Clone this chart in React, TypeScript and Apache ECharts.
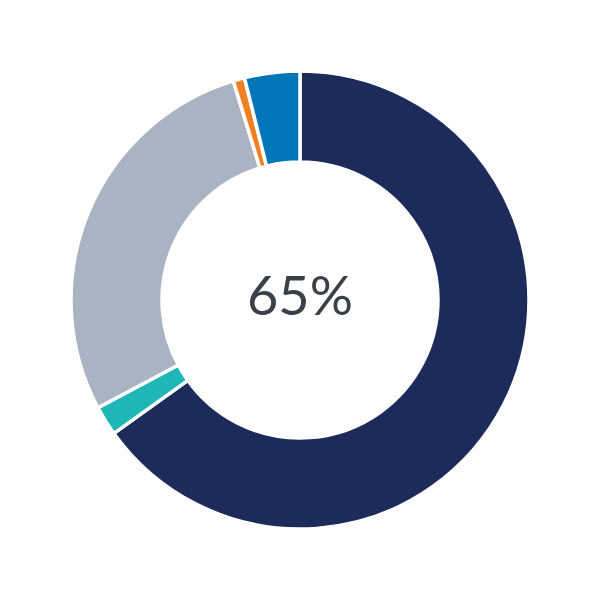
import React, { useEffect, useRef } from "react";
import * as echarts from "echarts";

const categories = ["Navy", "Teal", "Gray", "Orange", "Blue"];
const values = [65.1, 2.1, 28.1, 0.8, 3.9];
const colors = ["#1c2b59", "#1fb6b8", "#a9b3c1", "#f18023", "#0075b8"];
const centerLabel = "65%";

export default function App() {
  const ref = useRef<HTMLDivElement>(null);
  useEffect(() => {
    if (!ref.current) return;
    const chart = echarts.init(ref.current, null, { renderer: "svg" });
    chart.setOption({
      animation: false,
      series: [
        {
          type: "pie",
          center: [300, 300],
          radius: [138, 229],
          startAngle: 90,
          clockwise: true,
          label: { show: false },
          labelLine: { show: false },
          emphasis: { disabled: true },
          itemStyle: { borderColor: "#ffffff", borderWidth: 3.5 },
          data: categories.map((name, i) => ({
            name,
            value: values[i],
            itemStyle: { color: colors[i] },
          })),
        },
      ],
      graphic: [
        {
          type: "text",
          x: 300,
          y: 294,
          style: {
            text: centerLabel,
            fontFamily: "Lato",
            fontSize: 54,
            fontWeight: 400,
            fill: "#3a4047",
            align: "center",
            verticalAlign: "middle",
          },
        },
      ],
    });
    return () => chart.dispose();
  }, []);
  return (
    <div
      ref={ref}
      style={{ position: "absolute", left: 0, top: 0, width: 600, height: 600 }}
    />
  );
}
